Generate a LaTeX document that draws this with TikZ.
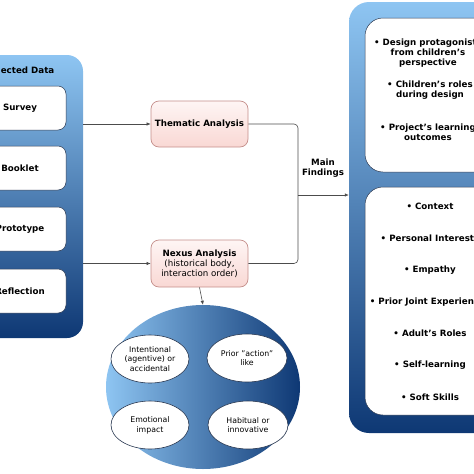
\documentclass[tikz,border=0pt]{standalone}
\usepackage{fontspec}
\setmainfont{DejaVu Sans}
\usepackage{tikz}
\usetikzlibrary{shapes.geometric,arrows.meta,positioning,calc}
\definecolor{skyblue}{RGB}{142,197,242}
\definecolor{navyblue}{RGB}{14,56,116}
\definecolor{pinktop}{RGB}{254,245,244}
\definecolor{pinkbot}{RGB}{249,216,212}
\definecolor{pinkline}{RGB}{196,142,138}
\definecolor{edgegrey}{RGB}{40,55,80}

\begin{document}
\begin{tikzpicture}[x=1pt,y=-1pt,font=\fontsize{8.7}{10}\selectfont\bfseries,
  cont/.style={rounded corners=16pt,top color=skyblue,bottom color=navyblue,draw=none,inner sep=0pt},
  item/.style={rounded corners=8pt,fill=white,draw=edgegrey,line width=0.5pt,minimum width=92pt,minimum height=44pt,inner sep=0pt},
  panel/.style={rounded corners=18pt,fill=white,draw=edgegrey,line width=0.5pt,minimum width=130pt,inner sep=0pt},
  anal/.style={rounded corners=8pt,top color=pinktop,bottom color=pinkbot,draw=pinkline,line width=0.7pt,minimum width=97pt,minimum height=46pt,align=center,inner sep=0pt},
  bubble/.style={ellipse,fill=white,draw=edgegrey,line width=0.6pt,minimum width=78pt,minimum height=48pt,inner sep=0pt,align=center,font=\fontsize{7.8}{9.8}\selectfont\mdseries},
  arr/.style={-{Latex[length=4pt,width=3.5pt]},line width=0.6pt,black!70},
  link/.style={line width=0.6pt,black!70,rounded corners=4pt}]
\clip (0,0) rectangle (474,474);
% collected data
\node[cont,minimum width=126pt,minimum height=283pt] (lc) at (20,196.5) {};
\node at (20,70) {Selected Data};
\node[item] (sv) at (20,108) {Survey};
\node[item] (bk) at (20,168) {Booklet};
\node[item] (pt) at (20,229) {Prototype};
\node[item] (rf) at (20,291) {Reflection};
% analyses
\node[anal] (th) at (199.5,124) {Thematic Analysis};
\node[anal,minimum height=47pt] (nx) at (199.5,263.5)
 {Nexus Analysis\\{\mdseries (historical body,}\\{\mdseries interaction order)}};
\coordinate (jn) at (298,195);
\node[align=center] (mf) at (323,168) {Main\\Findings};
% nexus ellipse
\node[ellipse,left color=skyblue,right color=navyblue,draw=none,minimum width=194pt,minimum height=164pt] (el) at (203,387) {};
\node[bubble] (b1) at (150,359) {Intentional\\(agentive) or\\accidental};
\node[bubble,minimum width=80pt] (b2) at (247,358) {Prior "action"\\like};
\node[bubble] (b3) at (150,425) {Emotional\\impact};
\node[bubble,minimum width=80pt] (b4) at (248,425) {Habitual or\\innovative};
% main findings
\node[cont,rounded corners=20pt,minimum width=162pt,minimum height=431pt] (rc) at (430,217.5) {};
\node[panel,minimum height=154pt] (p1) at (430,95) {};
\node[panel,minimum height=228pt] (p2) at (430,301) {};
\node[align=center] (f1) at (428,53) {• Design protagonists\\from children's\\perspective};
\node[align=center] (f2) at (430,90.5) {• Children's roles\\during design};
\node[align=center] (f3) at (428,132.5) {• Project's learning\\outcomes};
\node (g1) at (430,206) {• Context};
\node (g2) at (430,238) {• Personal Interests};
\node (g3) at (430,270) {• Empathy};
\node (g4) at (430,302) {• Prior Joint Experiences};
\node (g5) at (430,333) {• Adult's Roles};
\node (g6) at (430,365) {• Self-learning};
\node (g7) at (430,397) {• Soft Skills};
% connectors
\draw[arr] (lc.east |- th.west) -- (th.west);
\draw[arr] (lc.east |- nx.west) -- (nx.west);
\draw[link] (th.east) -| (jn);
\draw[link] (nx.east) -| (jn);
\draw[arr] (jn) -- (rc.west |- jn);
\draw[arr] (nx.south) -- (el.north);
\end{tikzpicture}
\end{document}
